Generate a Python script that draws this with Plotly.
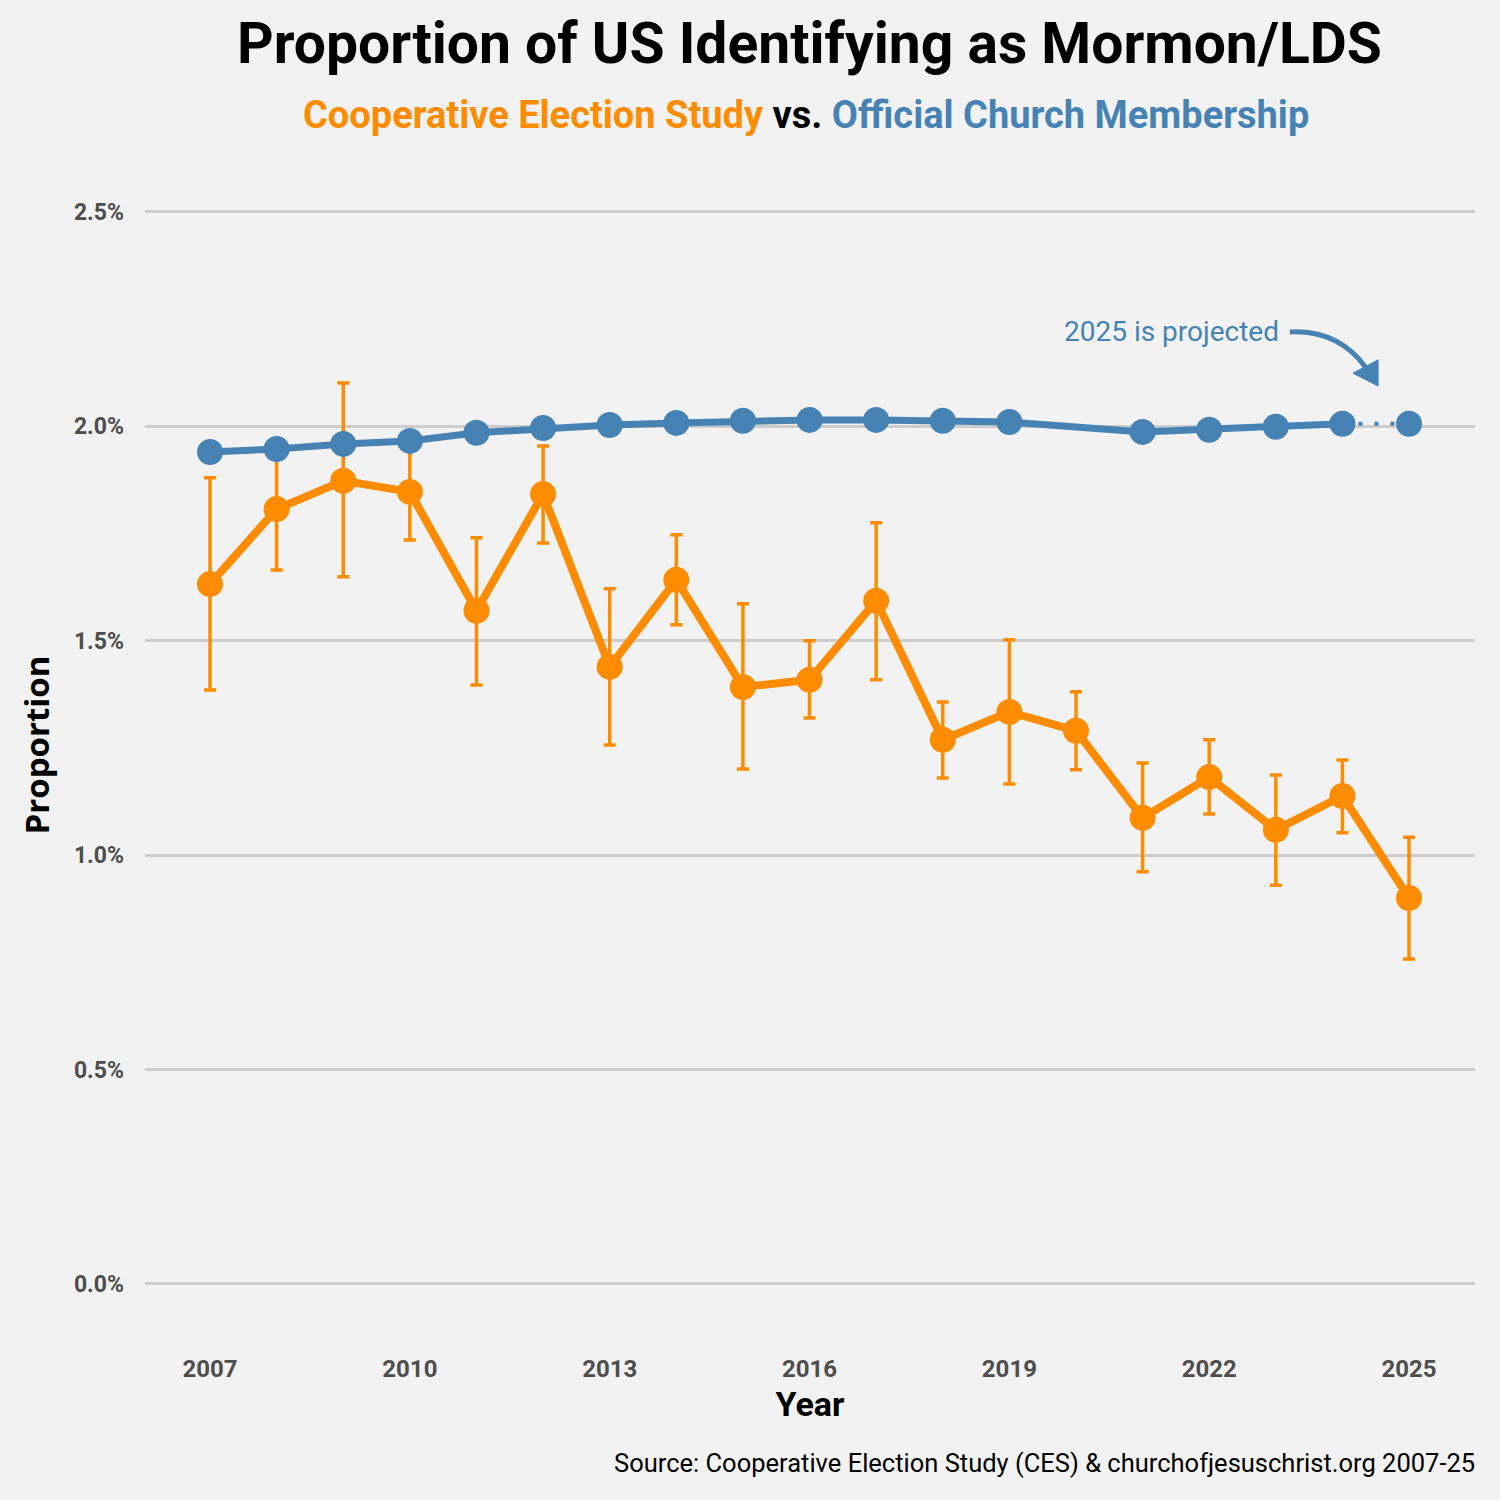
import plotly.graph_objects as go

# ---- data (percent) ----
ces_years = [2007, 2008, 2009, 2010, 2011, 2012, 2013, 2014, 2015, 2016,
             2017, 2018, 2019, 2020, 2021, 2022, 2023, 2024, 2025]
ces_value = [1.632, 1.807, 1.873, 1.847, 1.570, 1.842, 1.439, 1.642, 1.392, 1.409,
             1.593, 1.269, 1.334, 1.290, 1.087, 1.182, 1.059, 1.138, 0.900]
ces_upper = [1.880, 1.949, 2.101, 1.959, 1.740, 1.954, 1.621, 1.747, 1.586, 1.500,
             1.775, 1.357, 1.502, 1.381, 1.215, 1.269, 1.187, 1.222, 1.042]
ces_lower = [1.385, 1.665, 1.649, 1.735, 1.397, 1.728, 1.257, 1.537, 1.201, 1.320,
             1.409, 1.180, 1.166, 1.199, 0.961, 1.096, 0.930, 1.052, 0.758]

lds_years = [2007, 2008, 2009, 2010, 2011, 2012, 2013, 2014, 2015, 2016,
             2017, 2018, 2019, 2021, 2022, 2023, 2024]
lds_value = [1.940, 1.947, 1.959, 1.966, 1.985, 1.996, 2.003, 2.008, 2.013, 2.015,
             2.015, 2.013, 2.010, 1.987, 1.992, 1.999, 2.006]
proj_years = [2024, 2025]
proj_value = [2.006, 2.006]

x_ticks = [2007, 2010, 2013, 2016, 2019, 2022, 2025]
y_ticks = [0.0, 0.5, 1.0, 1.5, 2.0, 2.5]
y_tick_text = [f"{v:.1f}%" for v in y_ticks]

ORANGE = "#FF8C00"
BLUE = "#4682B4"
BG = "#F2F2F2"
FONT = "Roboto, sans-serif"

fig = go.Figure()

fig.add_trace(go.Scatter(
    x=ces_years, y=ces_value, mode="lines+markers",
    line=dict(color=ORANGE, width=8),
    marker=dict(color=ORANGE, size=26),
    error_y=dict(type="data", symmetric=False,
                 array=[u - v for u, v in zip(ces_upper, ces_value)],
                 arrayminus=[v - l for v, l in zip(ces_value, ces_lower)],
                 color=ORANGE, thickness=3.5, width=6),
    showlegend=False, hoverinfo="skip"))

fig.add_trace(go.Scatter(
    x=proj_years, y=proj_value, mode="lines",
    line=dict(color=BLUE, width=4, dash="4px,12px"),
    showlegend=False, hoverinfo="skip"))

fig.add_trace(go.Scatter(
    x=lds_years, y=lds_value, mode="lines+markers",
    line=dict(color=BLUE, width=7),
    marker=dict(color=BLUE, size=26),
    showlegend=False, hoverinfo="skip"))

fig.add_trace(go.Scatter(
    x=proj_years[1:], y=proj_value[1:], mode="markers",
    marker=dict(color=BLUE, size=26),
    showlegend=False, hoverinfo="skip"))

# curved arrow for projection note
fig.add_shape(type="path", xref="x", yref="y",
              path="M 2023.21,2.220 Q 2023.95,2.225 2024.36,2.135",
              line=dict(color=BLUE, width=5))
fig.add_shape(type="path", xref="x", yref="y",
              path="M 2024.16,2.124 L 2024.535,2.094 L 2024.535,2.155 Z",
              fillcolor=BLUE, line=dict(color=BLUE, width=1))

fig.add_annotation(x=2023.08, y=2.22, xref="x", yref="y", xanchor="right",
                   yanchor="middle", text="2025 is projected", showarrow=False,
                   font=dict(family=FONT, size=28, color=BLUE))

L, R, T, B = 145, 25, 160, 170
W = H = 1500
pw, ph = W - L - R, H - T - B


def px_x(xp):
    return (xp - L) / pw


def px_y(yp):
    return (H - B - yp) / ph


# title + subtitle
fig.add_annotation(x=px_x(809), y=px_y(44), xref="paper", yref="paper", yanchor="middle",
                   text="<b>Proportion of US Identifying as Mormon/LDS</b>",
                   showarrow=False, font=dict(family=FONT, size=57, color="black"))
fig.add_annotation(
    x=px_x(806), y=px_y(115), xref="paper", yref="paper", yanchor="middle",
    text=(f"<b><span style='color:{ORANGE}'>Cooperative Election Study</span> "
          f"<span style='color:black'>vs.</span> "
          f"<span style='color:{BLUE}'>Official Church Membership</span></b>"),
    showarrow=False, font=dict(family=FONT, size=38))

fig.add_annotation(x=px_x(1477), y=px_y(1463), xref="paper", yref="paper", xanchor="right",
                   yanchor="middle",
                   text="Source: Cooperative Election Study (CES) & churchofjesuschrist.org 2007-25",
                   showarrow=False, font=dict(family=FONT, size=25.5, color="black"))

fig.update_layout(
    width=W, height=H,
    margin=dict(l=L, r=R, t=T, b=B),
    paper_bgcolor=BG, plot_bgcolor=BG,
    font=dict(family=FONT),
    xaxis=dict(range=[2006.024, 2025.99], tickvals=x_ticks,
               showgrid=False, zeroline=False, showline=False, ticks="",
               tickfont=dict(family=FONT, size=24, color="#4D4D4D", weight="bold"),
               ticklabelstandoff=22,
               title=dict(text="<b>Year</b>", font=dict(family=FONT, size=34, color="black"),
                          standoff=10)),
    yaxis=dict(range=[-0.1073, 2.621], tickvals=y_ticks, ticktext=y_tick_text,
               showgrid=True, gridcolor="#CCCCCC", gridwidth=3, zeroline=False,
               showline=False, ticks="",
               tickfont=dict(family=FONT, size=23, color="#4D4D4D", weight="bold"),
               ticklabelstandoff=20,
               title=dict(text="<b>Proportion</b>",
                          font=dict(family="Open Sans", size=33, color="black"),
                          standoff=14)),
)

fig.write_html("out.html")
